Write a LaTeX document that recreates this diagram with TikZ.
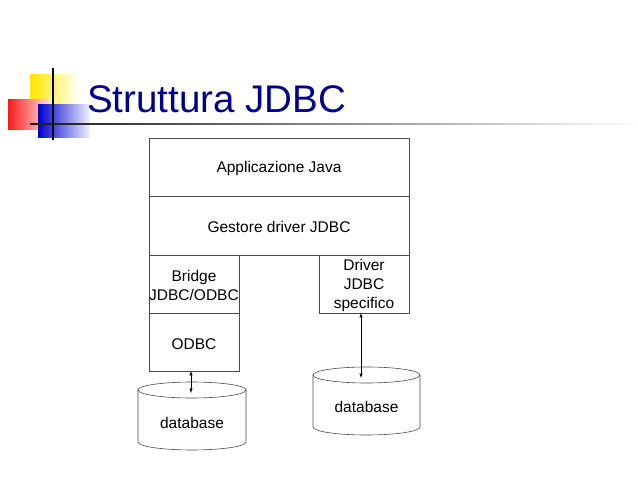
\documentclass[tikz,border=0pt]{standalone}
\usepackage{fontspec}
\setmainfont{Liberation Sans}
\begin{document}
\begin{tikzpicture}[x=1pt,y=-1pt,
  box/.style={draw=black!70,line width=0.6pt},
  lbl/.style={font=\fontsize{15.5}{19}\selectfont,align=center,inner sep=0},
  arr/.style={<->,>=latex,line width=0.5pt}]
\useasboundingbox (0,0) rectangle (638,478);
% logo
\shade[left color=yellow!80!orange, right color=yellow!10] (30,75) rectangle (75,115);
\shade[left color=red!90, right color=red!10] (8,100) rectangle (50,130);
\shade[left color=blue!80!black, right color=blue!5] (38,105) rectangle (90,138);
\draw[line width=1.2pt] (53,68) -- (53,140);
\shade[left color=black!90, right color=white] (30,123.5) rectangle (638,125);
\node[anchor=base west,inner sep=0,text=blue!55!black,font=\fontsize{38.5}{44}\selectfont] (t) at (87,113) {Struttura JDBC};
% boxes
\draw[box] (149,138) rectangle (409,196);
\node[lbl] (app) at (279,168) {Applicazione Java};
\draw[box] (149,196) rectangle (409,255);
\node[lbl] (ges) at (279,227) {Gestore driver JDBC};
\draw[box] (149,255) rectangle (239,313);
\node[lbl] (br) at (194,285) {Bridge\\JDBC/ODBC};
\draw[box] (149,313) rectangle (239,371);
\node[lbl] (odbc) at (194,344) {ODBC};
\draw[box] (319,255) rectangle (409,313);
\node[lbl] (drv) at (364,285) {Driver\\JDBC\\specifico};
% cylinders
\draw[box] (138,390) -- (138,442) arc[start angle=180,end angle=0,x radius=54,y radius=8] -- (246,390);
\draw[box] (192,390) ellipse[x radius=54,y radius=8];
\node[lbl] (db1) at (192,423) {database};
\draw[box] (313,375) -- (313,427) arc[start angle=180,end angle=0,x radius=53.5,y radius=8] -- (420,375);
\draw[box] (366.5,375) ellipse[x radius=53.5,y radius=8];
\node[lbl] (db2) at (366.5,407) {database};
\coordinate (a1) at (191,371); \coordinate (a2) at (191,393);
\coordinate (b1) at (361,313); \coordinate (b2) at (361,378);
\draw[arr] (a1) -- (a2);
\draw[arr] (b1) -- (b2);
\end{tikzpicture}
\end{document}
